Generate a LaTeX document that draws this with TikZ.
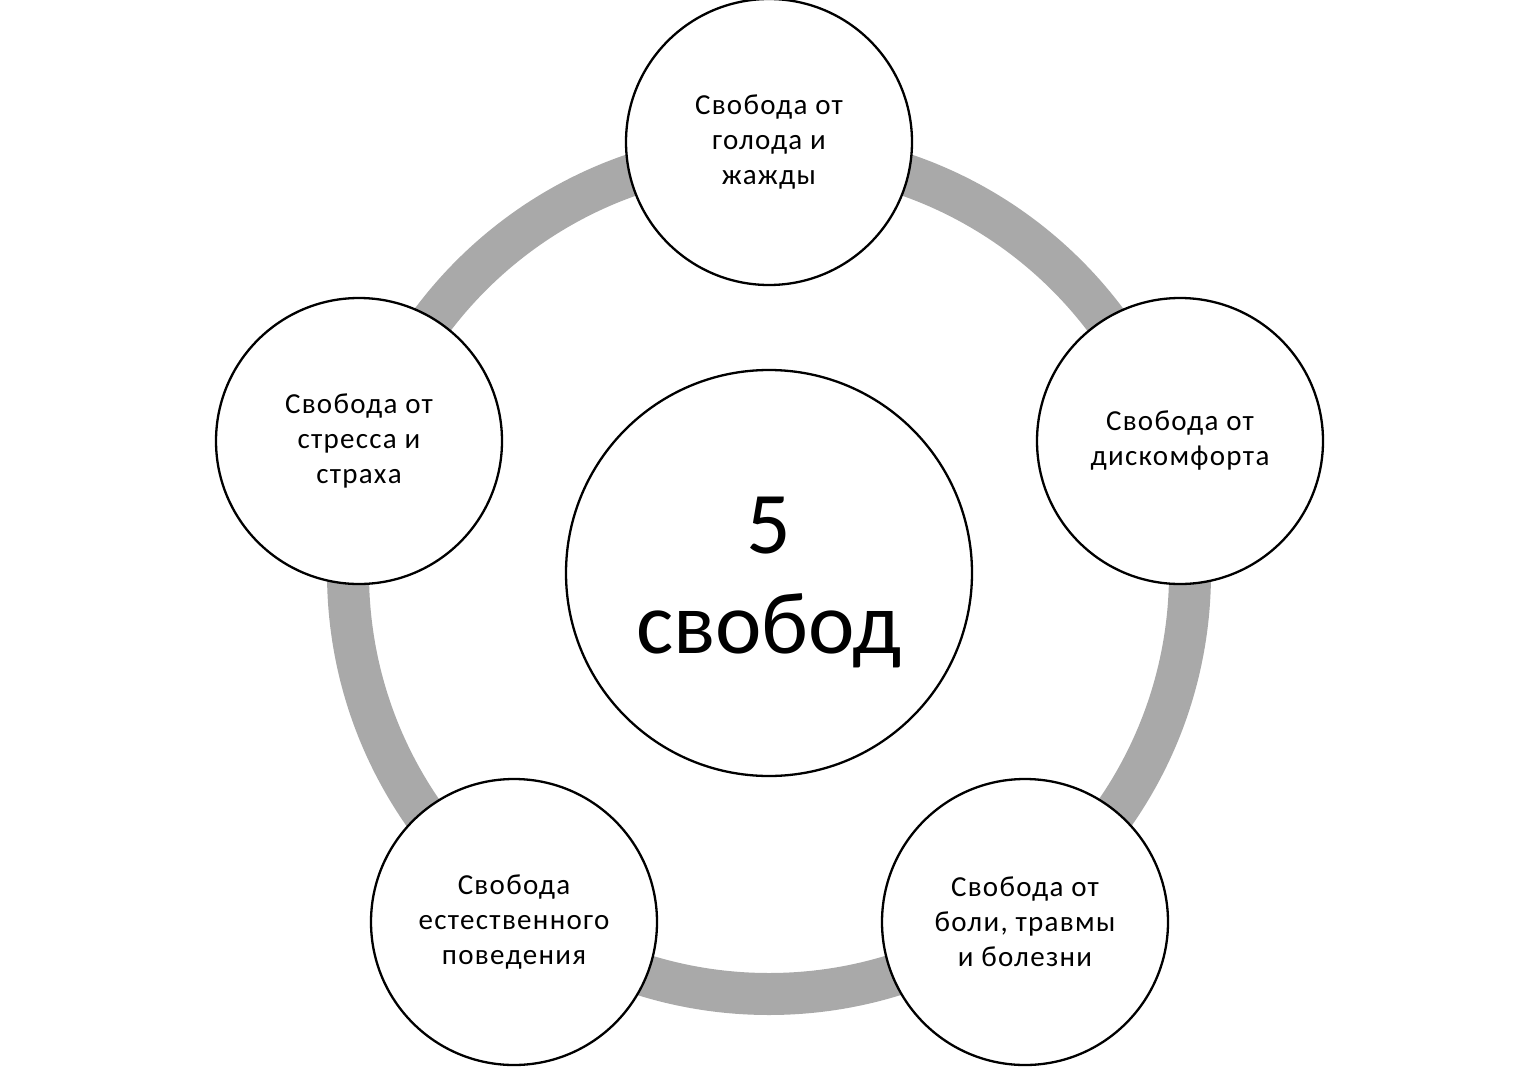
\documentclass[tikz,border=0pt]{standalone}
\usepackage{fontspec}
\setmainfont{Carlito}
\newfontfamily\smallfont[LetterSpace=4.5]{Carlito}
\definecolor{ringgray}{RGB}{169,169,169}
\begin{document}
\begin{tikzpicture}[x=1pt,y=-1pt,
  small/.style={circle,draw=black,line width=2.3pt,fill=white,minimum size=286pt,inner sep=0pt,align=center,font=\smallfont\fontsize{29}{35}\selectfont},
  big/.style={circle,draw=black,line width=2.3pt,fill=white,minimum size=406pt,inner sep=0pt}]
\useasboundingbox (0,0) rectangle (1536,1073);
\coordinate (c) at (769,573);
\draw[ringgray,line width=42pt] (c) circle[radius=421pt];
\node[big,label={[align=center,font=\fontsize{88}{100}\selectfont,yshift=-9pt]center:5\\свобод}] (center) at (c) {};
\node[small] (top) at (769,142) {Свобода от\\голода и\\жажды};
\node[small] (right) at (1180,441) {Свобода от\\дискомфорта};
\node[small] (br) at (1025,922) {Свобода от\\боли, травмы\\и болезни};
\node[small] (bl) at (514,922) {Свобода\\естественного\\поведения};
\node[small] (left) at (359,441) {Свобода от\\стресса и\\страха};
\end{tikzpicture}
\end{document}
